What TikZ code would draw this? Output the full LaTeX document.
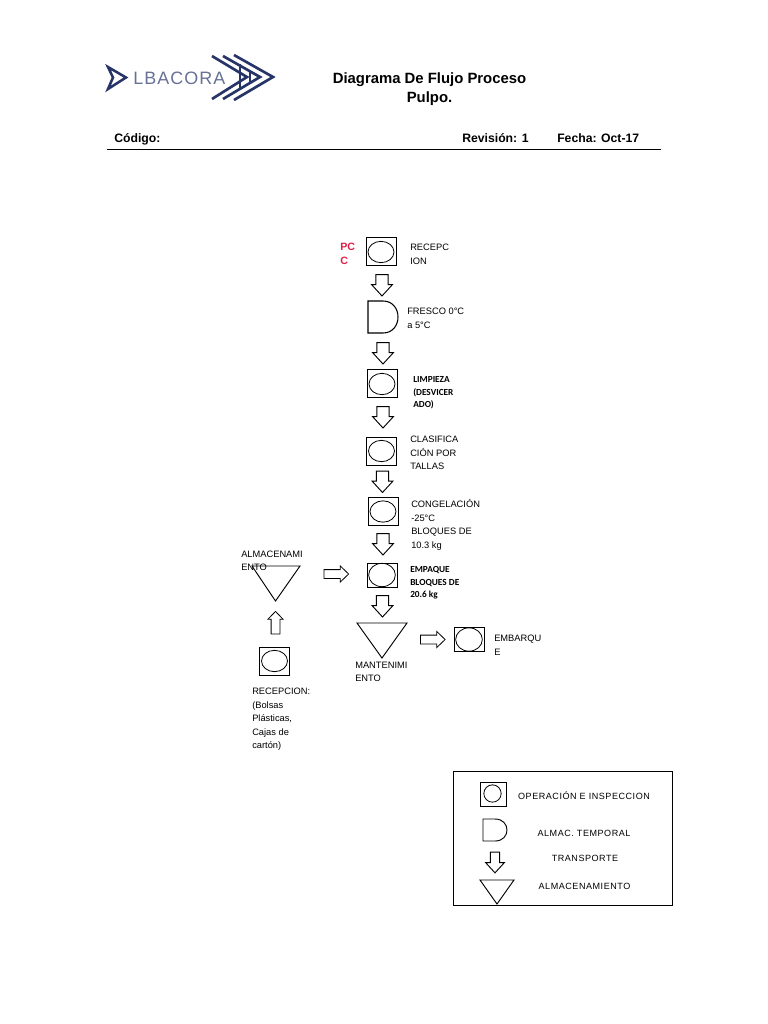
\documentclass[tikz,border=0pt]{standalone}
\usepackage{fontspec}
\setmainfont{Liberation Sans}
\newfontfamily\smallfont{Carlito}
\newfontfamily\spacedfont[LetterSpace=6]{Liberation Sans}
\usetikzlibrary{shapes.geometric,shapes.arrows}
\definecolor{logoblue}{RGB}{38,52,104}
\definecolor{pccred}{RGB}{226,30,70}
\tikzset{
    opbox/.style={draw,line width=0.7pt,minimum width=22.5bp,minimum height=21bp,inner sep=0pt},
    opring/.style={draw,ellipse,line width=0.6pt,minimum width=19.5bp,minimum height=16bp,inner sep=0pt},
    blockarrow/.style={draw,single arrow,line width=0.7pt,single arrow head extend=3.3bp,single arrow tip angle=85},
    downarrow/.style={blockarrow,shape border rotate=270,minimum height=16bp,inner ysep=0pt,inner xsep=4.2bp},
    rightarrow/.style={blockarrow,shape border rotate=0,minimum height=18.5bp,inner xsep=0pt,inner ysep=3bp,single arrow head extend=2.75bp,single arrow tip angle=88,line width=0.6pt},
    uparrow/.style={blockarrow,shape border rotate=90,minimum height=17bp,inner ysep=0pt,inner xsep=3bp,single arrow head extend=2.4bp,single arrow tip angle=88,line width=0.6pt},
    label/.style={anchor=north west,inner sep=0pt,align=left,font=\fontsize{7}{10.1}\selectfont},
    smalllabel/.style={anchor=north west,inner sep=0pt,align=left,font=\smallfont\bfseries\fontsize{7}{9.6}\selectfont},
    legend/.style={anchor=center,inner sep=0pt,font=\spacedfont\fontsize{6.8}{8}\selectfont},
    headtext/.style={inner sep=0pt,font=\bfseries\fontsize{9.2}{11}\selectfont},
}
\begin{document}
\begin{tikzpicture}[x=0.75bp,y=-0.75bp]
    \useasboundingbox (0,0) rectangle (768,1024);

    % Logo
    \draw[logoblue,line width=1.9pt] (126,77.5) -- (108,67) -- (113,77.5) -- (108,89) -- cycle;
    \node[anchor=west,inner sep=0pt,text=logoblue!70,font=\spacedfont\fontsize{13.5}{15}\selectfont] (logotext) at (133,78) {LBACORA};
    \draw[logoblue,line width=2pt] (212,56) -- (247,77) -- (212,99);
    \draw[logoblue,line width=2pt] (223,56) -- (260,77) -- (223,99);
    \draw[logoblue,line width=2pt] (234,55) -- (273,77) -- (234,100);
    \draw[logoblue,line width=1.6pt] (240,64) -- (240,90);
    \draw[logoblue,line width=1.6pt] (250,70) -- (250,84);

    % Header
    \node[headtext,font=\bfseries\fontsize{11.2}{14.2}\selectfont,align=center] (title) at (429.5,89) {Diagrama De Flujo Proceso\\Pulpo.};
    \node[headtext,anchor=west] (codigo) at (114,139) {Código:};
    \node[headtext,anchor=west] (revision) at (462,138.5) {Revisión: 1};
    \node[headtext,anchor=west] (fecha) at (557,138.5) {Fecha: Oct-17};
    \coordinate (lineL) at (107,149);
    \coordinate (lineR) at (661,149);
    \draw[line width=0.7pt] (lineL) -- (lineR);

    % Main column
    \node[opbox] (recepcion) at (381,251) {};
    \node[opring] (recepcionO) at (381,252) {};
    \node[downarrow] (A1) at (382,282) {};
    \draw[line width=0.8pt] (368,301) -- (383,301) .. controls (403,301) and (403,333) .. (383,333) -- (368,333) -- cycle;
    \node[downarrow] (A2) at (383,350) {};
    \node[opbox] (limpieza) at (382,383.5) {};
    \node[opring] (limpiezaO) at (382,384) {};
    \node[downarrow] (A3) at (383,414) {};
    \node[opbox] (clasifica) at (381.5,451) {};
    \node[opring] (clasificaO) at (381.5,451) {};
    \node[downarrow] (A4) at (382.5,478.5) {};
    \node[opbox] (congela) at (383,511.5) {};
    \node[opring] (congelaO) at (383,511.5) {};
    \node[downarrow] (A5) at (383,541) {};
    \node[opbox,minimum height=18bp] (empaque) at (382,575) {};
    \node[opring,minimum width=20bp,minimum height=17.5bp] (empaqueO) at (382,575) {};
    \node[downarrow] (A6) at (382.5,603) {};
    \draw[line width=0.7pt] (357,623) -- (407,623) -- (382,658) -- cycle;
    \node[rightarrow] (A7) at (430.5,639.5) {};
    \node[opbox,minimum height=18bp] (embarque) at (469,639) {};
    \node[opring,minimum width=20bp,minimum height=17.5bp] (embarqueO) at (469,639.5) {};

    % Left branch
    \draw[line width=0.7pt] (252,566) -- (300,566) -- (275.5,601) -- cycle;
    \node[rightarrow] (A8) at (334,574) {};
    \node[uparrow] (A9) at (275.5,625) {};
    \node[opbox] (bolsas) at (274.5,661) {};
    \node[opring] (bolsasO) at (274.5,661) {};

    % Labels
    \node[anchor=north west,inner sep=0pt,align=left,text=pccred,font=\bfseries\fontsize{8}{10.3}\selectfont] (pcc) at (340,243) {PC\\C};
    \node[label] (t1) at (410,244) {RECEPC\\ION};
    \node[label] (t2) at (407,308) {FRESCO 0°C\\a 5°C};
    \node[smalllabel] (t3) at (413,376) {LIMPIEZA\\(DESVICER\\ADO)};
    \node[label] (t4) at (410,436) {CLASIFICA\\CIÓN POR\\TALLAS};
    \node[label] (t5) at (411,499.5) {CONGELACIÓN\\-25°C\\BLOQUES DE\\10.3 kg};
    \node[smalllabel] (t6) at (410,566) {EMPAQUE\\BLOQUES DE\\20.6 kg};
    \node[label] (t7) at (241,550.5) {ALMACENAMI\\ENTO};
    \node[label] (t8) at (355,661.5) {MANTENIMI\\ENTO};
    \node[label] (t9) at (494,635) {EMBARQU\\E};
    \node[label] (t10) at (252,688) {RECEPCION:\\(Bolsas\\Plásticas,\\Cajas de\\cartón)};

    % Legend
    \draw[line width=0.7pt] (453,771) rectangle (672,905.5);
    \node[opbox,minimum width=19.5bp,minimum height=18bp] (legop) at (493,794) {};
    \node[opring,minimum width=13bp,minimum height=13bp] (legopO) at (492.5,793.5) {};
    \draw[line width=0.7pt] (483,819) -- (495,819) .. controls (511,819) and (511,841) .. (495,841) -- (483,841) -- cycle;
    \node[downarrow,minimum height=15.5bp,inner xsep=3.1bp,single arrow head extend=3.6bp] (legarrow) at (495,860) {};
    \draw[line width=0.7pt] (480,880) -- (514,880) -- (497,904) -- cycle;
    \node[legend] (l1) at (584,796) {OPERACIÓN E INSPECCION};
    \node[legend] (l2) at (584,833) {ALMAC. TEMPORAL};
    \node[legend] (l3) at (585,858) {TRANSPORTE};
    \node[legend] (l4) at (584.5,886) {ALMACENAMIENTO};
\end{tikzpicture}
\end{document}
